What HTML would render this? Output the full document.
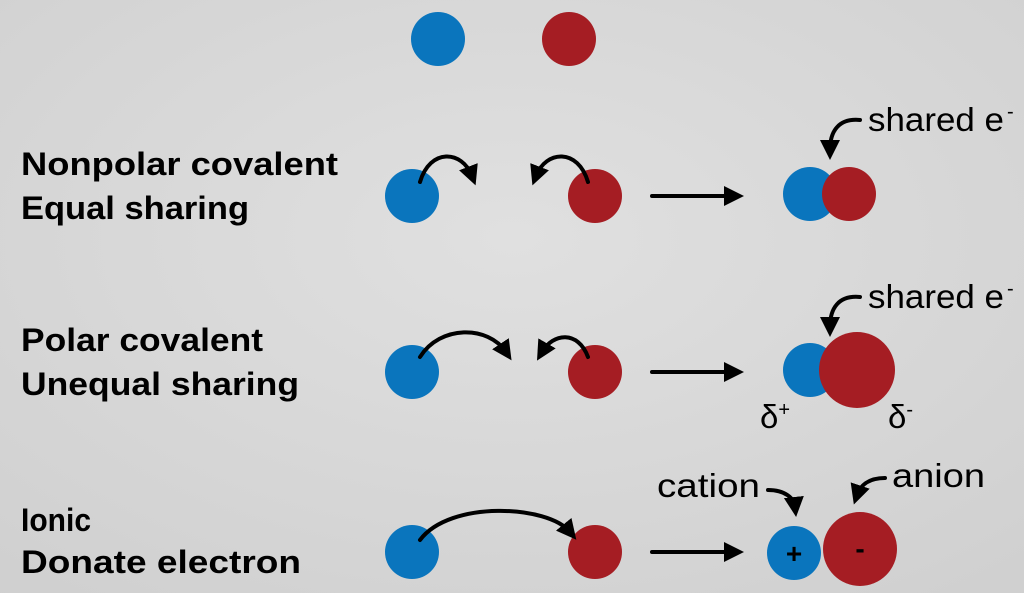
<!DOCTYPE html>
<html><head><meta charset="utf-8"><style>
html,body{margin:0;padding:0;background:#d8d8d8;}
svg{display:block}
text{font-family:"Liberation Sans",sans-serif;}
</style></head><body>
<svg width="1024" height="593" viewBox="0 0 1024 593" xmlns="http://www.w3.org/2000/svg">
<defs>
<radialGradient id="bg" cx="50%" cy="40%" r="80%"><stop offset="0" stop-color="#e0e0e0"/><stop offset="1" stop-color="#cfcfcf"/></radialGradient>
<marker id="ah" markerWidth="5" markerHeight="5" refX="2.5" refY="2.5" orient="auto" markerUnits="strokeWidth"><path d="M0,0 L5,2.5 L0,5 Z" fill="#000"/></marker>
</defs>
<rect width="1024" height="593" fill="url(#bg)"/>
<g fill="#000" font-weight="bold" font-size="32">
<text x="21" y="175" textLength="317" lengthAdjust="spacingAndGlyphs">Nonpolar covalent</text>
<text x="21" y="219" textLength="228" lengthAdjust="spacingAndGlyphs">Equal sharing</text>
<text x="21" y="351" textLength="242" lengthAdjust="spacingAndGlyphs">Polar covalent</text>
<text x="21" y="395" textLength="278" lengthAdjust="spacingAndGlyphs">Unequal sharing</text>
<text x="21" y="531" textLength="70" lengthAdjust="spacingAndGlyphs">Ionic</text>
<text x="21" y="573" textLength="280" lengthAdjust="spacingAndGlyphs">Donate electron</text>
</g>
<g font-size="33" fill="#000">
<text x="868" y="131" textLength="136" lengthAdjust="spacingAndGlyphs">shared e</text><text x="1007" y="118" font-size="20">-</text>
<text x="868" y="308" textLength="136" lengthAdjust="spacingAndGlyphs">shared e</text><text x="1007" y="295" font-size="20">-</text>
<text x="760" y="428">δ<tspan dy="-12" font-size="20">+</tspan></text>
<text x="888" y="428">δ<tspan dy="-12" font-size="20">-</tspan></text>
<text x="657" y="497" textLength="103" lengthAdjust="spacingAndGlyphs">cation</text>
<text x="892" y="487" textLength="93" lengthAdjust="spacingAndGlyphs">anion</text>
</g>
<circle cx="438" cy="39" r="27" fill="#0a75bd"/>
<circle cx="569" cy="39" r="27" fill="#a51d23"/>
<circle cx="412" cy="196" r="27" fill="#0a75bd"/>
<circle cx="595" cy="196" r="27" fill="#a51d23"/>
<circle cx="412" cy="372" r="27" fill="#0a75bd"/>
<circle cx="595" cy="372" r="27" fill="#a51d23"/>
<circle cx="412" cy="552" r="27" fill="#0a75bd"/>
<circle cx="595" cy="552" r="27" fill="#a51d23"/>
<circle cx="810" cy="194" r="27" fill="#0a75bd"/>
<circle cx="849" cy="194" r="27" fill="#a51d23"/>
<circle cx="810" cy="370" r="27" fill="#0a75bd"/>
<circle cx="857" cy="370" r="38" fill="#a51d23"/>
<circle cx="794" cy="553" r="27" fill="#0a75bd"/>
<circle cx="860" cy="549" r="37" fill="#a51d23"/>
<text x="794" y="563" font-size="28" font-weight="bold" text-anchor="middle" fill="#000">+</text>
<text x="860" y="558" font-size="28" font-weight="bold" text-anchor="middle" fill="#000">-</text>
<g fill="none" stroke="#000" stroke-width="4" stroke-linecap="round" marker-end="url(#ah)">
<path d="M420,182 C430,148 462,150 472,176"/>
<path d="M588,182 C578,148 546,150 536,176"/>
<path d="M420,357 C440,325 488,325 506,352"/>
<path d="M588,357 C578,330 553,333 542,352"/>
<path d="M420,540 C450,500 548,505 570,532"/>
<path d="M652,196 L734,196"/>
<path d="M652,372 L734,372"/>
<path d="M652,552 L734,552"/>
<path d="M860,120 C838,118 830,132 830,150"/>
<path d="M860,297 C838,295 830,309 830,327"/>
<path d="M768,490 C785,490 794,498 795,507"/>
<path d="M885,478 C868,478 860,486 857,495"/>
</g>
</svg>
</body></html>
